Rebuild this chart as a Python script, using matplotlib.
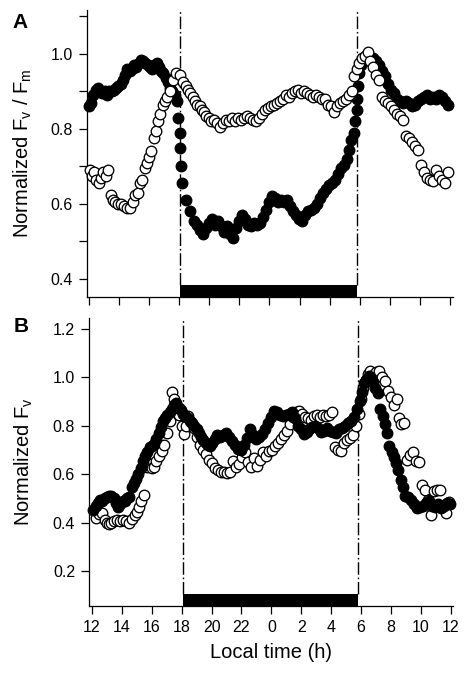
import matplotlib
matplotlib.use("Agg")
import matplotlib.pyplot as plt
import numpy as np
from matplotlib.ticker import MultipleLocator, FormatStrFormatter

plt.rcParams['font.family'] = ['Liberation Sans', 'DejaVu Sans']
plt.rcParams['mathtext.fontset'] = 'custom'
plt.rcParams['mathtext.rm'] = 'Liberation Sans'
plt.rcParams['mathtext.it'] = 'Liberation Sans'

# ---------------- data (continuous hours, 12 -> 36 = noon to noon) ----------------
tA_fill = [12.0, 12.15, 12.3, 12.45, 12.6, 12.75, 12.9, 13.05, 13.2, 13.35, 13.5, 13.65, 13.8, 13.95,
           14.1, 14.25, 14.4, 14.55, 14.7, 14.85, 15.0, 15.15, 15.3, 15.45, 15.6, 15.75, 15.9, 16.05,
           16.2, 16.35, 16.5, 16.65, 16.8, 16.95, 17.1, 17.25, 17.4, 17.55, 17.7, 17.85, 17.95, 18.02,
           18.07, 18.1, 18.2, 18.45, 18.7, 18.95, 19.15, 19.35, 19.55, 19.75, 19.95, 20.15, 20.35,
           20.55, 20.75, 20.95, 21.15, 21.35, 21.55, 21.75, 21.95, 22.15, 22.35, 22.55, 22.75, 22.95,
           23.15, 23.35, 23.55, 23.75, 23.95, 24.15, 24.35, 24.55, 24.75, 24.95, 25.15, 25.35, 25.55,
           25.75, 25.95, 26.15, 26.35, 26.55, 26.75, 26.95, 27.15, 27.35, 27.55, 27.75, 27.95, 28.15,
           28.35, 28.55, 28.75, 28.95, 29.15, 29.3, 29.45, 29.6, 29.7, 29.8, 29.85, 29.9, 29.95, 30.1,
           30.3, 30.5, 30.7, 30.9, 31.1, 31.3, 31.5, 31.7, 31.9, 32.1, 32.3, 32.5, 32.7, 32.9, 33.1,
           33.3, 33.5, 33.7, 33.9, 34.1, 34.3, 34.5, 34.7, 34.9, 35.1, 35.3, 35.5, 35.7, 35.9]
vA_fill = [0.86, 0.87, 0.89, 0.905, 0.91, 0.90, 0.895, 0.90, 0.89, 0.90, 0.90, 0.905, 0.91, 0.915,
           0.92, 0.93, 0.945, 0.96, 0.955, 0.96, 0.97, 0.965, 0.975, 0.985, 0.98, 0.975, 0.97, 0.965,
           0.96, 0.97, 0.975, 0.965, 0.955, 0.95, 0.935, 0.925, 0.91, 0.90, 0.89, 0.875, 0.83, 0.79,
           0.75, 0.70, 0.655, 0.61, 0.58, 0.555, 0.545, 0.53, 0.52, 0.535, 0.55, 0.56, 0.545,
           0.555, 0.54, 0.525, 0.54, 0.52, 0.51, 0.535, 0.555, 0.57, 0.56, 0.545, 0.54, 0.55,
           0.545, 0.55, 0.565, 0.585, 0.605, 0.62, 0.615, 0.605, 0.61, 0.605, 0.61, 0.595, 0.58,
           0.57, 0.56, 0.555, 0.57, 0.58, 0.585, 0.59, 0.60, 0.615, 0.63, 0.64, 0.65, 0.655,
           0.665, 0.68, 0.695, 0.705, 0.72, 0.745, 0.77, 0.79, 0.82, 0.85, 0.88, 0.915, 0.95, 0.97,
           0.99, 0.995, 0.99, 0.99, 0.98, 0.97, 0.955, 0.94, 0.92, 0.905, 0.895, 0.88, 0.875, 0.87, 0.875,
           0.87, 0.86, 0.865, 0.875, 0.88, 0.885, 0.89, 0.88, 0.885, 0.88, 0.89, 0.885, 0.875, 0.865]

tA_open = [12.05, 12.2, 12.35, 12.5, 12.65, 12.8, 12.95, 13.1, 13.25, 13.45, 13.6, 13.75, 13.9, 14.1,
           14.3, 14.5, 14.7, 14.9, 15.05, 15.25, 15.4, 15.55, 15.7, 15.85, 16.0, 16.15, 16.3, 16.45,
           16.6, 16.75, 16.9, 17.05, 17.2, 17.4, 17.6, 17.8, 18.05, 18.25, 18.45, 18.6, 18.75, 18.9,
           19.05, 19.2, 19.35, 19.5, 19.65, 19.8, 19.95, 20.1, 20.3, 20.5, 20.7, 20.9, 21.1, 21.3,
           21.5, 21.7, 21.9, 22.1, 22.3, 22.5, 22.7, 22.9, 23.1, 23.3, 23.5, 23.7, 23.9, 24.1, 24.3,
           24.5, 24.7, 24.9, 25.1, 25.3, 25.5, 25.7, 25.9, 26.1, 26.3, 26.5, 26.7, 26.9, 27.1, 27.3,
           27.5, 27.7, 27.9, 28.1, 28.3, 28.5, 28.7, 28.9, 29.1, 29.3, 29.5, 29.65, 29.8, 29.95, 30.15,
           30.35, 30.55, 30.7, 30.9, 31.1, 31.3, 31.5, 31.7, 31.9, 32.1, 32.3, 32.5, 32.7, 32.9, 33.1,
           33.3, 33.5, 33.7, 33.9, 34.1, 34.3, 34.5, 34.7, 34.9, 35.1, 35.3, 35.5, 35.7, 35.9]
vA_open = [0.69, 0.675, 0.685, 0.665, 0.655, 0.67, 0.685, 0.675, 0.69, 0.625, 0.61, 0.605, 0.60, 0.60,
           0.595, 0.59, 0.59, 0.605, 0.625, 0.63, 0.655, 0.665, 0.695, 0.71, 0.725, 0.74, 0.775, 0.795,
           0.82, 0.84, 0.865, 0.875, 0.885, 0.90, 0.93, 0.95, 0.945, 0.925, 0.915, 0.905, 0.895, 0.885,
           0.875, 0.865, 0.86, 0.85, 0.845, 0.835, 0.83, 0.82, 0.825, 0.815, 0.805, 0.815, 0.825, 0.82,
           0.83, 0.82, 0.83, 0.825, 0.83, 0.835, 0.83, 0.825, 0.82, 0.83, 0.84, 0.85, 0.855, 0.86, 0.865,
           0.87, 0.875, 0.88, 0.89, 0.885, 0.895, 0.90, 0.905, 0.895, 0.90, 0.895, 0.89, 0.885, 0.89, 0.885,
           0.88, 0.88, 0.865, 0.86, 0.845, 0.86, 0.87, 0.875, 0.88, 0.89, 0.90, 0.94, 0.96, 0.975, 0.99,
           0.995, 1.005, 0.98, 0.965, 0.945, 0.93, 0.885, 0.875, 0.87, 0.86, 0.85, 0.84, 0.835, 0.825, 0.78,
           0.775, 0.765, 0.755, 0.745, 0.705, 0.685, 0.67, 0.665, 0.66, 0.69, 0.675, 0.665, 0.655, 0.685]

tB_fill = [12.1, 12.25, 12.4, 12.55, 12.7, 12.85, 13.0, 13.15, 13.3, 13.45, 13.6, 13.75, 13.9, 14.05,
           14.2, 14.35, 14.5, 14.65, 14.8, 14.95, 15.1, 15.25, 15.4, 15.55, 15.7, 15.85, 16.0, 16.15,
           16.3, 16.45, 16.6, 16.75, 16.9, 17.05, 17.2, 17.35, 17.5, 17.65, 17.8, 17.95, 18.1, 18.25,
           18.4, 18.55, 18.7, 18.85, 19.0, 19.15, 19.3, 19.45, 19.6, 19.75, 19.9, 20.05, 20.2, 20.35,
           20.55, 20.75, 20.95, 21.15, 21.35, 21.55, 21.75, 21.95, 22.15, 22.35, 22.55, 22.75, 22.95,
           23.15, 23.35, 23.55, 23.75, 23.95, 24.15, 24.35, 24.55, 24.75, 24.95, 25.15, 25.35, 25.55,
           25.75, 25.95, 26.15, 26.35, 26.55, 26.75, 26.95, 27.15, 27.35, 27.55, 27.75, 27.95, 28.15,
           28.35, 28.55, 28.75, 28.95, 29.15, 29.35, 29.55, 29.75, 29.9, 30.05, 30.2, 30.35, 30.5,
           30.65, 30.8, 30.95, 31.1, 31.3, 31.45, 31.6, 31.75, 31.9, 32.05, 32.2, 32.35, 32.5, 32.65,
           32.8, 32.95, 33.15, 33.35, 33.55, 33.75, 33.95, 34.15, 34.35, 34.55, 34.75, 34.95, 35.15,
           35.35, 35.55, 35.75, 35.95]
vB_fill = [0.45, 0.47, 0.48, 0.495, 0.49, 0.50, 0.505, 0.51, 0.51, 0.50, 0.48, 0.465, 0.475, 0.49,
           0.49, 0.50, 0.505, 0.545, 0.565, 0.58, 0.60, 0.625, 0.655, 0.675, 0.69, 0.71, 0.715, 0.725,
           0.745, 0.77, 0.795, 0.82, 0.83, 0.845, 0.855, 0.87, 0.885, 0.895, 0.875, 0.865, 0.85, 0.84,
           0.83, 0.82, 0.81, 0.80, 0.785, 0.77, 0.755, 0.74, 0.73, 0.72, 0.715, 0.73, 0.745, 0.76,
           0.755, 0.76, 0.77, 0.755, 0.735, 0.72, 0.705, 0.70, 0.72, 0.75, 0.785, 0.76, 0.745,
           0.755, 0.765, 0.785, 0.81, 0.835, 0.86, 0.855, 0.845, 0.84, 0.845, 0.85, 0.855, 0.83,
           0.80, 0.785, 0.765, 0.775, 0.785, 0.795, 0.80, 0.79, 0.775, 0.78, 0.79, 0.78, 0.775,
           0.77, 0.785, 0.79, 0.80, 0.81, 0.82, 0.835, 0.87, 0.90, 0.94, 0.975, 0.99, 1.005,
           0.995, 0.98, 0.955, 0.935, 0.87, 0.84, 0.805, 0.77, 0.715, 0.69, 0.67, 0.645, 0.615, 0.575,
           0.545, 0.51, 0.505, 0.495, 0.475, 0.46, 0.465, 0.47, 0.48, 0.49, 0.47, 0.465, 0.475,
           0.46, 0.47, 0.48, 0.475]

tB_open = [12.3, 12.5, 12.7, 12.85, 13.0, 13.15, 13.3, 13.45, 13.65, 13.85, 14.05, 14.25, 14.45, 14.65,
           14.85, 15.0, 15.15, 15.3, 15.45, 15.65, 15.85, 16.0, 16.15, 16.3, 16.45, 16.65, 16.85, 17.05,
           17.2, 17.35, 17.5, 17.7, 17.85, 18.0, 18.15, 18.3, 18.45, 18.65, 18.85, 19.05, 19.25, 19.45,
           19.65, 19.85, 20.05, 20.25, 20.45, 20.65, 20.85, 21.05, 21.25, 21.45, 21.65, 21.85, 22.05,
           22.25, 22.45, 22.65, 22.85, 23.05, 23.25, 23.45, 23.65, 23.85, 24.05, 24.25, 24.45, 24.65,
           24.85, 25.05, 25.25, 25.45, 25.65, 25.85, 26.05, 26.25, 26.45, 26.65, 26.85, 27.05, 27.25,
           27.45, 27.65, 27.85, 28.05, 28.25, 28.45, 28.65, 28.85, 29.05, 29.25, 29.45, 29.65, 29.85,
           30.0, 30.15, 30.3, 30.45, 30.6, 30.8, 31.0, 31.2, 31.4, 31.6, 31.8, 32.0, 32.2, 32.4, 32.55,
           32.7, 32.85, 33.1, 33.3, 33.5, 33.7, 33.9, 34.1, 34.3, 34.5, 34.7, 34.9, 35.1, 35.3, 35.5,
           35.7, 35.9]
vB_open = [0.42, 0.435, 0.44, 0.41, 0.40, 0.395, 0.40, 0.405, 0.41, 0.405, 0.41, 0.405, 0.40, 0.415,
           0.43, 0.445, 0.465, 0.49, 0.515, 0.63, 0.64, 0.625, 0.63, 0.655, 0.675, 0.695, 0.72, 0.77,
           0.82, 0.94, 0.91, 0.875, 0.845, 0.80, 0.765, 0.80, 0.84, 0.815, 0.79, 0.755, 0.72, 0.70,
           0.685, 0.66, 0.645, 0.625, 0.615, 0.61, 0.61, 0.605, 0.61, 0.655, 0.63, 0.64, 0.67,
           0.69, 0.65, 0.63, 0.665, 0.635, 0.66, 0.69, 0.675, 0.695, 0.70, 0.715, 0.73, 0.745,
           0.76, 0.78, 0.805, 0.835, 0.855, 0.86, 0.85, 0.835, 0.83, 0.825, 0.84, 0.845, 0.835,
           0.845, 0.84, 0.845, 0.855, 0.71, 0.70, 0.695, 0.73, 0.74, 0.75, 0.76, 0.80, 0.85,
           0.91, 0.955, 0.99, 1.015, 1.025, 1.01, 1.02, 1.025, 1.0, 0.985, 0.945, 0.92, 0.885, 0.91, 0.83,
           0.805, 0.81, 0.66, 0.68, 0.69, 0.655, 0.65, 0.555, 0.535, 0.495, 0.43, 0.53, 0.535, 0.535, 0.46,
           0.44, 0.485]

dark_start = 18.07  # lights off
dark_end = 29.8     # lights on (05:48)
xtick_pos = list(range(12, 37, 2))
xtick_labels = ['12', '14', '16', '18', '20', '22', '0', '2', '4', '6', '8', '10', '12']

# ---------------- figure ----------------
W, H = 474, 673
fig = plt.figure(figsize=(W / 100, H / 100), dpi=100)

def frac_box(l, t, r, b):
    return [l / W, 1 - b / H, (r - l) / W, (b - t) / H]

axA = fig.add_axes(frac_box(87, 10, 453, 297))
axB = fig.add_axes(frac_box(89, 318, 453, 606))

ms = 7.6
mew = 0.95
bar_frac = 0.042

def style(ax, xlim, ylim, ylabel, minor):
    ax.set_xlim(*xlim)
    ax.set_ylim(*ylim)
    for s in ['top', 'right']:
        ax.spines[s].set_visible(False)
    for s in ['left', 'bottom']:
        ax.spines[s].set_linewidth(0.9)
    ax.set_xticks(xtick_pos)
    if minor:
        ax.yaxis.set_minor_locator(MultipleLocator(minor))
    ax.yaxis.set_major_formatter(FormatStrFormatter('%.1f'))
    ax.tick_params(axis='both', which='both', direction='out', length=5.5, width=0.9,
                   labelsize=11.5, colors='black', pad=4.5)
    ax.set_ylabel(ylabel, fontsize=14.5)
    # dark period bar and lines
    ax.axvspan(dark_start, dark_end, ymin=0, ymax=bar_frac, color='black', lw=0)
    for xv in (dark_start, dark_end):
        ax.axvline(xv, ymin=bar_frac, ymax=1, color='black', lw=1.0,
                   dashes=(9, 2, 1.2, 2))

style(axA, (11.87, 36.2), (0.352, 1.117), r'Normalized F$_\mathrm{v}$ / F$_\mathrm{m}$', 0.1)
style(axB, (11.8, 36.15), (0.055, 1.245), r'Normalized F$_\mathrm{v}$', None)
axA.set_yticks([0.4, 0.6, 0.8, 1.0])
axB.set_yticks([0.2, 0.4, 0.6, 0.8, 1.0, 1.2])
axA.tick_params(axis='x', labelbottom=False)
axB.set_xticklabels(xtick_labels)
axB.set_xlabel('Local time (h)', fontsize=14.5, labelpad=6)
axA.yaxis.set_label_coords((34 - 87) / 366, 0.5)
axB.yaxis.set_label_coords((35 - 89) / 364, 0.5)

# Panel A: filled then open
axA.plot(tA_fill, vA_fill, 'o', ms=ms, mfc='black', mec='black', mew=mew, zorder=3, clip_on=False)
axA.plot(tA_open, vA_open, 'o', ms=ms, mfc='white', mec='black', mew=mew, zorder=4, clip_on=False)
# Panel B: open then filled
axB.plot(tB_open, vB_open, 'o', ms=ms, mfc='white', mec='black', mew=mew, zorder=3, clip_on=False)
axB.plot(tB_fill, vB_fill, 'o', ms=ms, mfc='black', mec='black', mew=mew, zorder=4, clip_on=False)

fig.text(20 / W, 1 - 22 / H, 'A', fontsize=15, fontweight='bold', ha='center', va='center')
fig.text(21 / W, 1 - 326 / H, 'B', fontsize=15, fontweight='bold', ha='center', va='center')

fig.savefig('out.png', dpi=100)
